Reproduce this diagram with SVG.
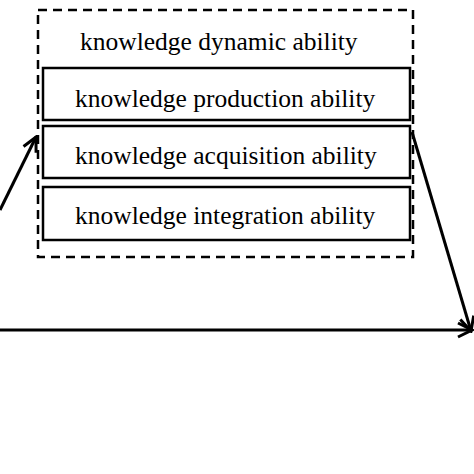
<svg xmlns="http://www.w3.org/2000/svg" width="474" height="474" viewBox="0 0 474 474">
<style>
.box{fill:#fff;stroke:#000;stroke-width:2.5}
.dash{fill:none;stroke:#000;stroke-width:2.5;stroke-dasharray:9,6}
.lbl{font-family:"Liberation Serif","Times New Roman",serif;font-size:25.5px;fill:#000}
.conn{fill:none;stroke:#000;stroke-width:3}
</style>
<defs>
<marker id="arr" viewBox="0 0 18 18" refX="16" refY="9" markerWidth="18" markerHeight="18" markerUnits="userSpaceOnUse" orient="auto">
<path d="M2,2 L16,9 L2,16" fill="none" stroke="#000" stroke-width="3"/>
</marker>
</defs>
<rect width="474" height="474" fill="#fff"/>
<g id="dynamic">
<rect class="dash" x="38" y="10" width="375" height="247"/>
<text class="lbl" x="80" y="50">knowledge dynamic ability</text>
</g>
<g id="production">
<rect class="box" x="43" y="68" width="367" height="52"/>
<text class="lbl" x="75" y="107">knowledge production ability</text>
</g>
<g id="acquisition">
<rect class="box" x="43" y="126" width="367" height="52"/>
<text class="lbl" x="75" y="164">knowledge acquisition ability</text>
</g>
<g id="integration">
<rect class="box" x="43" y="187" width="367" height="53"/>
<text class="lbl" x="75" y="224">knowledge integration ability</text>
</g>
<g id="connectors">
<line class="conn" x1="0" y1="210" x2="36" y2="137" marker-end="url(#arr)"/>
<line class="conn" x1="412" y1="132" x2="471" y2="331" marker-end="url(#arr)"/>
<line class="conn" x1="0" y1="330" x2="472" y2="330" marker-end="url(#arr)"/>
</g>
</svg>
